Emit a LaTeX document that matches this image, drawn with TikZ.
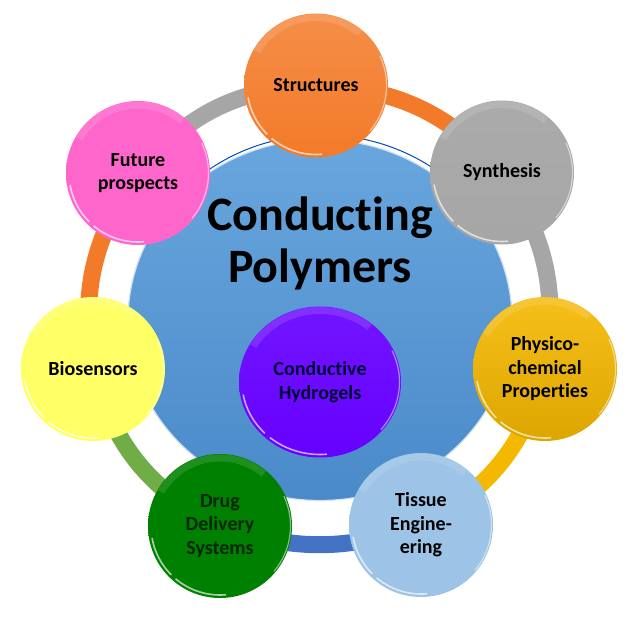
\documentclass[tikz,border=0pt]{standalone}
\usepackage{fontspec}
\setmainfont{Carlito}[Ligatures=NoCommon]
\usepackage{xcolor}
\usetikzlibrary{calc,backgrounds,shapes.geometric}
\definecolor{corange}{HTML}{F37A28}
\definecolor{cgray}{HTML}{A6A6A6}
\definecolor{cgold}{HTML}{F5B800}
\definecolor{cblue}{HTML}{4472C4}
\definecolor{cgreen}{HTML}{70AD47}
\definecolor{ctissue}{HTML}{9DC3E6}
\definecolor{cdrug}{HTML}{008000}
\definecolor{cyell}{HTML}{FFFF66}
\definecolor{cpink}{HTML}{FF66CC}
\definecolor{cviolet}{HTML}{6600FF}
\definecolor{cdisctop}{HTML}{69A6DE}
\definecolor{cdiscbot}{HTML}{4A8AC9}
\tikzset{
bubble/.style 2 args={ellipse,inner sep=0pt,minimum width=2*#1,minimum height=2*#2,align=center,
  font=\fontsize{20}{23.5}\selectfont\bfseries,
  path picture={
  \draw[x=1pt,y=1pt,white,opacity=0.12,line width=7pt]
  ([shift={(50:{#1-4} and {#2-4})}]path picture bounding box.center) arc[start angle=50,end angle=150,x radius={#1-4},y radius={#2-4}];
  \draw[x=1pt,y=1pt,white,opacity=0.65,line width=1.6pt]
  ([shift={(190:{#1-3} and {#2-3})}]path picture bounding box.center) arc[start angle=190,end angle=225,x radius={#1-3},y radius={#2-3}];
  \draw[x=1pt,y=1pt,white,opacity=0.65,line width=1.6pt]
  ([shift={(230:{#1-3} and {#2-3})}]path picture bounding box.center) arc[start angle=230,end angle=275,x radius={#1-3},y radius={#2-3}];
  \draw[x=1pt,y=1pt,white,opacity=0.5,line width=1.2pt]
  ([shift={(-40:{#1-1.5} and {#2-1.5})}]path picture bounding box.center) arc[start angle=-40,end angle=25,x radius={#1-1.5},y radius={#2-1.5}];
  }},
ringpart/.style={line width=17pt,line cap=butt}
}
\begin{document}
\begin{tikzpicture}[x=1pt,y=-1pt,line join = round]
\useasboundingbox (0,0) rectangle (638,617);
% centre disc
\node[ellipse,minimum width=384,minimum height=361,inner sep=0pt,draw=ctissue!50!white,line width=1.2pt,
 top color=cdisctop,bottom color=cdiscbot] (polymers) at (320,320) {};
\draw[x=1pt,y=1pt,color=black!40!blue!70!cyan,line width=1pt] (polymers.150) arc[start angle=150,end angle=30,x radius=192,y radius=180.5];
\node[font=\fontsize{48}{52}\selectfont\bfseries,align=center] (title) at (320,243) {Conducting\\Polymers};
\node[bubble={81}{75.5},top color=cviolet!92!white,bottom color=cviolet,text=black!80!blue] (hydrogels) at (320,382) {Conductive\\Hydrogels};
% outer nodes
\node[bubble={72}{72},top color=corange!85!white,bottom color=corange] (structures) at (316,85.5) {Structures};
\node[bubble={72}{72},top color=cgray!95!white,bottom color=cgray] (synthesis) at (502,172.5) {Synthesis};
\node[bubble={72}{72},top color=cgold!90!white,bottom color=cgold!90!black] (properties) at (545,369) {Physico-\\chemical\\Properties};
\node[bubble={72}{72},top color=ctissue,bottom color=ctissue] (tissue) at (421,525) {Tissue\\Engine-\\ering};
\node[bubble={72}{72},top color=cdrug,bottom color=cdrug,text=black!85!green] (drug) at (220,526) {Drug\\Delivery\\Systems};
\node[bubble={72}{72},top color=cyell,bottom color=cyell] (biosensors) at (93,369) {Biosensors};
\node[bubble={72}{72},top color=cpink,bottom color=cpink] (future) at (138,173) {Future\\prospects};
% ring pieces between the nodes
\begin{scope}[on background layer]
\foreach \a/\b/\c/\goc in {structures/synthesis/corange/23,synthesis/properties/cgray/22,properties/tissue/cgold/24,
tissue/drug/cblue/19,drug/biosensors/cgreen/24,biosensors/future/corange/22,future/structures/cgray/24}
{\draw[ringpart,\c] (\a.center) to[bend left=\goc] (\b.center);}
\end{scope}
\end{tikzpicture}
\end{document}
